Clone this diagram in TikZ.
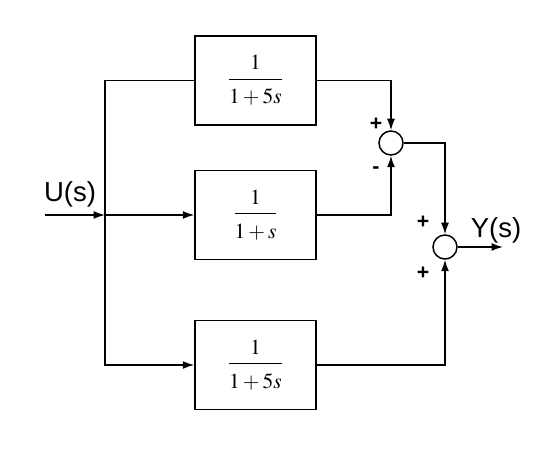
\documentclass[tikz,border=0pt]{standalone}
\usepackage{amsmath}
\usepackage{mathptmx}
\usepackage{fontspec}
\setsansfont{Liberation Sans}
\usetikzlibrary{arrows.meta}
\newcommand{\blockfrac}[1]{$\dfrac{\rule[-2.2pt]{0pt}{0pt}1}{\rule{0pt}{8.6pt}#1}$}
\tikzset{
  block/.style={draw,line width=0.6pt,minimum width=48.4pt,minimum height=35.6pt,inner sep=0pt},
  sumnode/.style={draw,circle,line width=0.6pt,minimum size=9.6pt,inner sep=0pt},
  sign/.style={font=\sffamily\bfseries\fontsize{8.5}{9}\selectfont,inner sep=0pt},
  sig/.style={font=\sffamily\fontsize{11}{13}\selectfont,inner sep=0pt},
  tf/.style={font=\fontsize{8.6}{10}\selectfont}
}
\begin{document}
\begin{tikzpicture}[x=0.4pt,y=-0.4pt,line width=0.6pt,
    >={Latex[length=4.6pt,width=3.2pt]}]
  \useasboundingbox (0,0) rectangle (560,452);

  \node[block,tf] (b1) at (255.5,80.5) {\blockfrac{1+5s}};
  \node[block,tf] (b2) at (255.5,215) {\blockfrac{1+s}};
  \node[block,tf] (b3) at (255.5,365) {\blockfrac{1+5s}};
  \node[sumnode] (s1) at (391,143) {};
  \node[sumnode] (s2) at (445,247) {};

  \coordinate (uin) at (45,215);
  \coordinate (j) at (105,215);
  \coordinate (yout) at (503,247);

  \node[sig] (u) at (70,194) {U(s)};
  \node[sig] (y) at (496,230) {Y(s)};
  \node[sign] (p1) at (376,124) {+};
  \node[sign] (m1) at (376,170) {-};
  \node[sign] (p2) at (423,222) {+};
  \node[sign] (p3) at (423,273) {+};

  \draw[->] (uin) -- (j);
  \draw[->] (j) -- (b2.west);
  \draw (j) |- (b1.west);
  \draw[->] (j) |- (b3.west);
  \draw[->] (b1.east) -| (s1);
  \draw[->] (b2.east) -| (s1);
  \draw[->] (s1) -| (s2);
  \draw[->] (b3.east) -| (s2);
  \draw[->] (s2) -- (yout);
\end{tikzpicture}
\end{document}
